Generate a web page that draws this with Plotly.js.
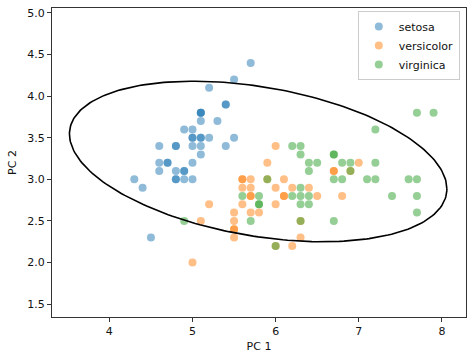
<!DOCTYPE html>
<html>
<head>
<meta charset="utf-8">
<script src="https://cdn.plot.ly/plotly-3.0.1.min.js"></script>
<style>html,body{margin:0;padding:0;background:#fff}#chart{width:474px;height:361px}</style>
</head>
<body>
<div id="chart"></div>
<script>
// Data (PC 1, PC 2 pairs per class)
const setosaX = [5.7,5.5,5.2,5.4,5.4,5.1,5.1,5.1,5.1,5.3,4.9,5.0,5.0,5.0,5.1,5.1,5.2,5.5,4.6,4.8,4.8,5.0,5.1,5.4,5.1,4.6,4.7,4.7,5.0,4.6,4.8,4.9,4.9,4.8,4.8,4.9,5.0,4.3,4.4,4.5];
const setosaY = [4.4,4.2,4.1,3.9,3.9,3.8,3.8,3.8,3.7,3.7,3.6,3.6,3.5,3.5,3.5,3.5,3.5,3.5,3.4,3.4,3.4,3.4,3.4,3.4,3.3,3.2,3.2,3.2,3.2,3.1,3.1,3.1,3.1,3.0,3.0,3.0,3.0,3.0,2.9,2.3];

const versicolorX = [6.0,5.9,7.0,6.7,6.7,6.9,5.6,5.6,5.7,5.9,6.1,5.6,5.7,6.0,6.2,6.4,5.7,5.7,6.1,6.1,6.5,6.8,5.2,5.6,6.0,5.5,5.7,5.8,5.1,5.5,6.3,5.5,5.5,5.5,6.3,6.0,6.2,5.0];
const versicolorY = [3.4,3.2,3.2,3.1,3.1,3.1,3.0,3.0,3.0,3.0,3.0,2.9,2.9,2.9,2.9,2.9,2.8,2.8,2.8,2.8,2.8,2.8,2.7,2.7,2.7,2.6,2.6,2.6,2.5,2.5,2.5,2.4,2.4,2.3,2.3,2.2,2.2,2.0];

const virginicaX = [7.9,7.7,7.2,6.2,6.3,6.3,6.7,6.7,6.4,6.5,6.8,6.9,7.2,6.4,6.9,5.9,6.7,6.8,7.1,7.2,7.6,7.7,6.3,5.6,5.8,6.2,6.3,6.4,7.4,7.7,5.8,5.8,6.3,6.4,7.7,4.9,5.7,6.3,6.7,6.0];
const virginicaY = [3.8,3.8,3.6,3.4,3.4,3.3,3.3,3.3,3.2,3.2,3.2,3.2,3.2,3.1,3.1,3.0,3.0,3.0,3.0,3.0,3.0,3.0,2.9,2.8,2.8,2.8,2.8,2.8,2.8,2.8,2.7,2.7,2.7,2.7,2.6,2.5,2.5,2.5,2.5,2.2];

const classNames = ['setosa', 'versicolor', 'virginica'];

// Ellipse: centre, half-extents along x / y, correlation
const ellCenter = [5.79, 3.215];
const ellHalfX = 2.27;
const ellHalfY = 0.965;
const ellRho = -0.342;

const colors = ['#1f77b4', '#ff7f0e', '#2ca02c'];
const series = [[setosaX, setosaY], [versicolorX, versicolorY], [virginicaX, virginicaY]];

const traces = series.map((s, i) => ({
  type: 'scatter', mode: 'markers', name: classNames[i],
  x: s[0], y: s[1],
  marker: {color: colors[i], size: 8, opacity: 0.5, line: {width: 0}}
}));

const ex = [], ey = [];
const N = 240;
for (let k = 0; k <= N; k++) {
  const t = 2 * Math.PI * k / N;
  ex.push(ellCenter[0] + ellHalfX * Math.cos(t));
  ey.push(ellCenter[1] + ellHalfY * (ellRho * Math.cos(t) + Math.sqrt(1 - ellRho * ellRho) * Math.sin(t)));
}
traces.push({type: 'scatter', mode: 'lines', x: ex, y: ey, showlegend: false,
  line: {color: '#000', width: 1.6}, hoverinfo: 'skip'});

const font = {family: 'DejaVu Sans, sans-serif', size: 11, color: '#111'};
const axisCommon = {
  showgrid: false, zeroline: false, showline: true, mirror: true,
  linecolor: '#333', linewidth: 1, ticks: 'outside', ticklen: 4, tickwidth: 1,
  tickcolor: '#333', tickfont: font
};

const layout = {
  width: 474, height: 361,
  margin: {l: 52, r: 8, t: 8, b: 44},
  paper_bgcolor: '#fff', plot_bgcolor: '#fff',
  font: font,
  xaxis: Object.assign({}, axisCommon, {
    range: [3.31, 8.29], tickvals: [4, 5, 6, 7, 8],
    title: {text: 'PC 1', font: font, standoff: 5}
  }),
  yaxis: Object.assign({}, axisCommon, {
    range: [1.345, 5.06], tickvals: [1.5, 2.0, 2.5, 3.0, 3.5, 4.0, 4.5, 5.0], tickformat: '.1f',
    title: {text: 'PC 2', font: font, standoff: 8}
  }),
  legend: {
    x: 0.985, y: 0.99, xanchor: 'right', yanchor: 'top',
    bgcolor: 'rgba(255,255,255,0.8)', bordercolor: '#ccc', borderwidth: 1,
    font: {family: 'DejaVu Sans, sans-serif', size: 11, color: '#111'},
    tracegroupgap: 0
  },
  showlegend: true
};

Plotly.newPlot('chart', traces, layout, {displayModeBar: false, staticPlot: true});
</script>
</body>
</html>
